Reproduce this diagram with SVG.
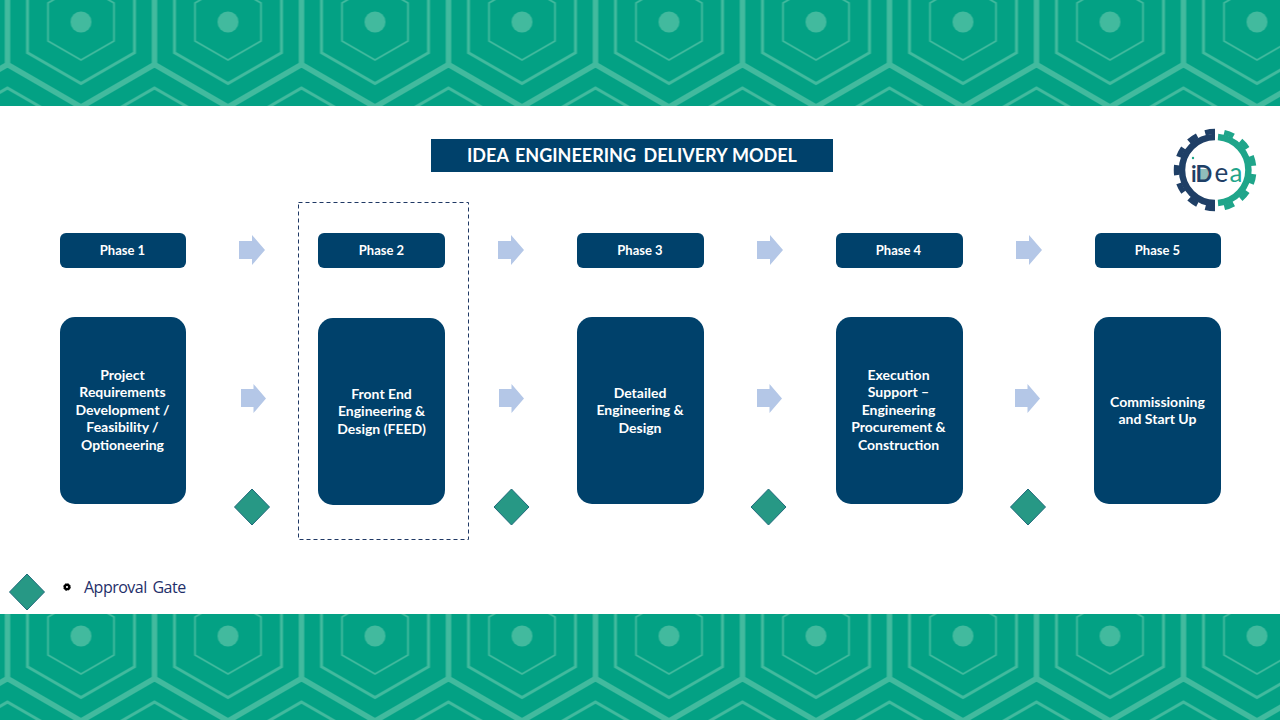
<svg xmlns="http://www.w3.org/2000/svg" width="1280" height="720" viewBox="0 0 1280 720">
<style>
.hdr{fill:#00416B}
.txt{font-family:Lato,"Liberation Sans",sans-serif;font-weight:700;fill:#fff;text-anchor:middle;font-size:14px}
.ph{font-size:13px}
.arrow{fill:#B4C7E7}
.gate{fill:#279885;stroke:#1F6A7A;stroke-width:1}
.hx{fill:none;stroke:#42BA9E}
</style>
<defs>
<polygon id="h3" points="0,-85 73.500,-42.500 73.500,42.500 0,85 -73.500,42.500 -73.500,-42.500"/>
<polygon id="h2" points="0,-61.500 53.500,-30.700 53.500,30.700 0,61.500 -53.500,30.700 -53.500,-30.700"/>
<polygon id="h1" points="0,-38 33,-19 33,19 0,38 -33,19 -33,-19"/>
<g id="cell">
<use href="#h3" class="hx" stroke-width="5"/>
<use href="#h2" class="hx" stroke-width="3"/>
<use href="#h1" class="hx" stroke-width="1.800"/>
<circle r="10.500" fill="#42BA9E"/>
</g>
<g id="tile">
<use href="#cell" x="-73.500" y="22"/>
<use href="#cell" x="73.500" y="22"/>
<use href="#cell" x="220.500" y="22"/>
<use href="#cell" x="0" y="149.500"/>
<use href="#cell" x="147" y="149.500"/>
</g>
<pattern id="hexTop" width="147" height="255" patternUnits="userSpaceOnUse" patternTransform="translate(7.500,0)"><use href="#tile"/></pattern>
<pattern id="hexBottom" width="147" height="255" patternUnits="userSpaceOnUse" patternTransform="translate(7.500,614)"><use href="#tile"/></pattern>
</defs>
<rect width="1280" height="720" fill="#fff"/>
<g id="band-top"><rect width="1280" height="106" fill="#03A184"/><rect width="1280" height="106" fill="url(#hexTop)"/></g>
<g id="band-bottom"><rect y="614" width="1280" height="106" fill="#03A184"/><rect y="614" width="1280" height="106" fill="url(#hexBottom)"/></g>

<g id="title"><rect x="431" y="139" width="402" height="33" class="hdr"/>
<text y="161.500" font-family="Lato,'Liberation Sans',sans-serif" font-weight="700" font-size="18" fill="#fff"><tspan x="467">IDEA</tspan> <tspan x="515">ENGINEERING</tspan> <tspan x="643.500">DELIVERY</tspan> <tspan x="732">MODEL</tspan></text></g>

<g id="logo" fill="none">
<path d="M1215 137A33 33 0 0 0 1215 203" stroke="#1F3F66" stroke-width="6.500"/>
<path d="M1215 131.500A38.500 38.500 0 0 0 1215 208.500" stroke="#1F3F66" stroke-width="5.500" stroke-dasharray="10 8.500"/>
<path d="M1218 137.100A33 33 0 0 1 1218 202.900" stroke="#1FA58A" stroke-width="6.500"/>
<path d="M1218 131.600A38.500 38.500 0 0 1 1218 208.400" stroke="#1FA58A" stroke-width="5.500" stroke-dasharray="10 8.500" stroke-dashoffset="12.250"/>
<rect x="1200" y="169" width="8" height="11" fill="#8FBDBB"/>
<circle cx="1193" cy="158" r="1.200" fill="#1FA58A"/>
<text y="182" font-family="Lato,sans-serif" font-size="22" font-weight="700" fill="#1F3F66"><tspan x="1191">i</tspan><tspan x="1195.500">D</tspan><tspan x="1214.500" font-size="26" font-weight="400">e</tspan><tspan x="1229.500" font-size="26" font-weight="400" fill="#1FA58A">a</tspan></text>
</g>

<g id="phase-frame"><rect x="298.500" y="202.500" width="170" height="337" fill="none" stroke="#1F3864" stroke-width="1" stroke-dasharray="4 3"/></g>

<g id="phase1"><rect x="60" y="233" width="126" height="35" rx="6" class="hdr"/><text x="122.500" y="255" class="txt ph">Phase 1</text></g>
<g id="phase2"><rect x="318" y="233" width="127" height="35" rx="6" class="hdr"/><text x="381.500" y="255" class="txt ph">Phase 2</text></g>
<g id="phase3"><rect x="577" y="233" width="127" height="35" rx="6" class="hdr"/><text x="640" y="255" class="txt ph">Phase 3</text></g>
<g id="phase4"><rect x="836" y="233" width="127" height="35" rx="6" class="hdr"/><text x="898.500" y="255" class="txt ph">Phase 4</text></g>
<g id="phase5"><rect x="1095" y="233" width="126" height="35" rx="6" class="hdr"/><text x="1157.500" y="255" class="txt ph">Phase 5</text></g>

<g id="step1"><rect x="60" y="317" width="126" height="187" rx="15" class="hdr"/><text class="txt"><tspan x="122.500" y="380">Project</tspan><tspan x="122.500" y="397">Requirements</tspan><tspan x="122.500" y="415">Development /</tspan><tspan x="122.500" y="432">Feasibility /</tspan><tspan x="122.500" y="450">Optioneering</tspan></text></g>
<g id="step2"><rect x="318" y="318" width="127" height="187" rx="15" class="hdr"/><text class="txt"><tspan x="381.500" y="399">Front End</tspan><tspan x="381.500" y="416">Engineering &amp;</tspan><tspan x="381.500" y="434">Design (FEED)</tspan></text></g>
<g id="step3"><rect x="577" y="317" width="127" height="187" rx="15" class="hdr"/><text class="txt"><tspan x="640" y="398">Detailed</tspan><tspan x="640" y="415">Engineering &amp;</tspan><tspan x="640" y="433">Design</tspan></text></g>
<g id="step4"><rect x="836" y="317" width="127" height="187" rx="15" class="hdr"/><text class="txt"><tspan x="898.500" y="380">Execution</tspan><tspan x="898.500" y="397">Support –</tspan><tspan x="898.500" y="415">Engineering</tspan><tspan x="898.500" y="432">Procurement &amp;</tspan><tspan x="898.500" y="450">Construction</tspan></text></g>
<g id="step5"><rect x="1094" y="317" width="127" height="187" rx="15" class="hdr"/><text class="txt"><tspan x="1157.500" y="407">Commissioning</tspan><tspan x="1157.500" y="424">and Start Up</tspan></text></g>

<g id="connectors">
<polygon class="arrow" points="239,241 252,241 252,235 265,250 252,265 252,259 239,259"/>
<polygon class="arrow" points="498,241 511,241 511,235 524,250 511,265 511,259 498,259"/>
<polygon class="arrow" points="757,241 770,241 770,235 783,250 770,265 770,259 757,259"/>
<polygon class="arrow" points="1016,241 1029,241 1029,235 1042,250 1029,265 1029,259 1016,259"/>
<polygon class="arrow" points="241,389 253.500,389 253.500,384 266,398.500 253.500,413 253.500,407 241,407"/>
<polygon class="arrow" points="499,389 511.500,389 511.500,384 524,398.500 511.500,413 511.500,407 499,407"/>
<polygon class="arrow" points="757,389 769.500,389 769.500,384 782,398.500 769.500,413 769.500,407 757,407"/>
<polygon class="arrow" points="1015,389 1027.500,389 1027.500,384 1040,398.500 1027.500,413 1027.500,407 1015,407"/>
</g>

<g id="gate1"><polygon class="gate" points="252,489 269.500,507 252,525 234.500,507"/></g>
<g id="gate2"><polygon class="gate" points="511.500,489 529,507 511.500,525 494,507"/></g>
<g id="gate3"><polygon class="gate" points="768.500,489 786,507 768.500,525 751,507"/></g>
<g id="gate4"><polygon class="gate" points="1028,489 1045.500,507 1028,525 1010.500,507"/></g>

<g id="legend">
<polygon class="gate" points="27,574 44.500,592 27,610 9.500,592"/>
<circle cx="67" cy="587" r="2.200" fill="none" stroke="#000" stroke-width="2.200"/>
<circle cx="67" cy="587" r="3.100" fill="none" stroke="#000" stroke-width="1.200" stroke-dasharray="1.600 0.830"/>
<text x="84" y="593" font-family="'Open Sans',sans-serif" font-size="16" letter-spacing="-0.500" fill="#1F2F6A" word-spacing="2">Approval Gate</text>
</g>
</svg>
